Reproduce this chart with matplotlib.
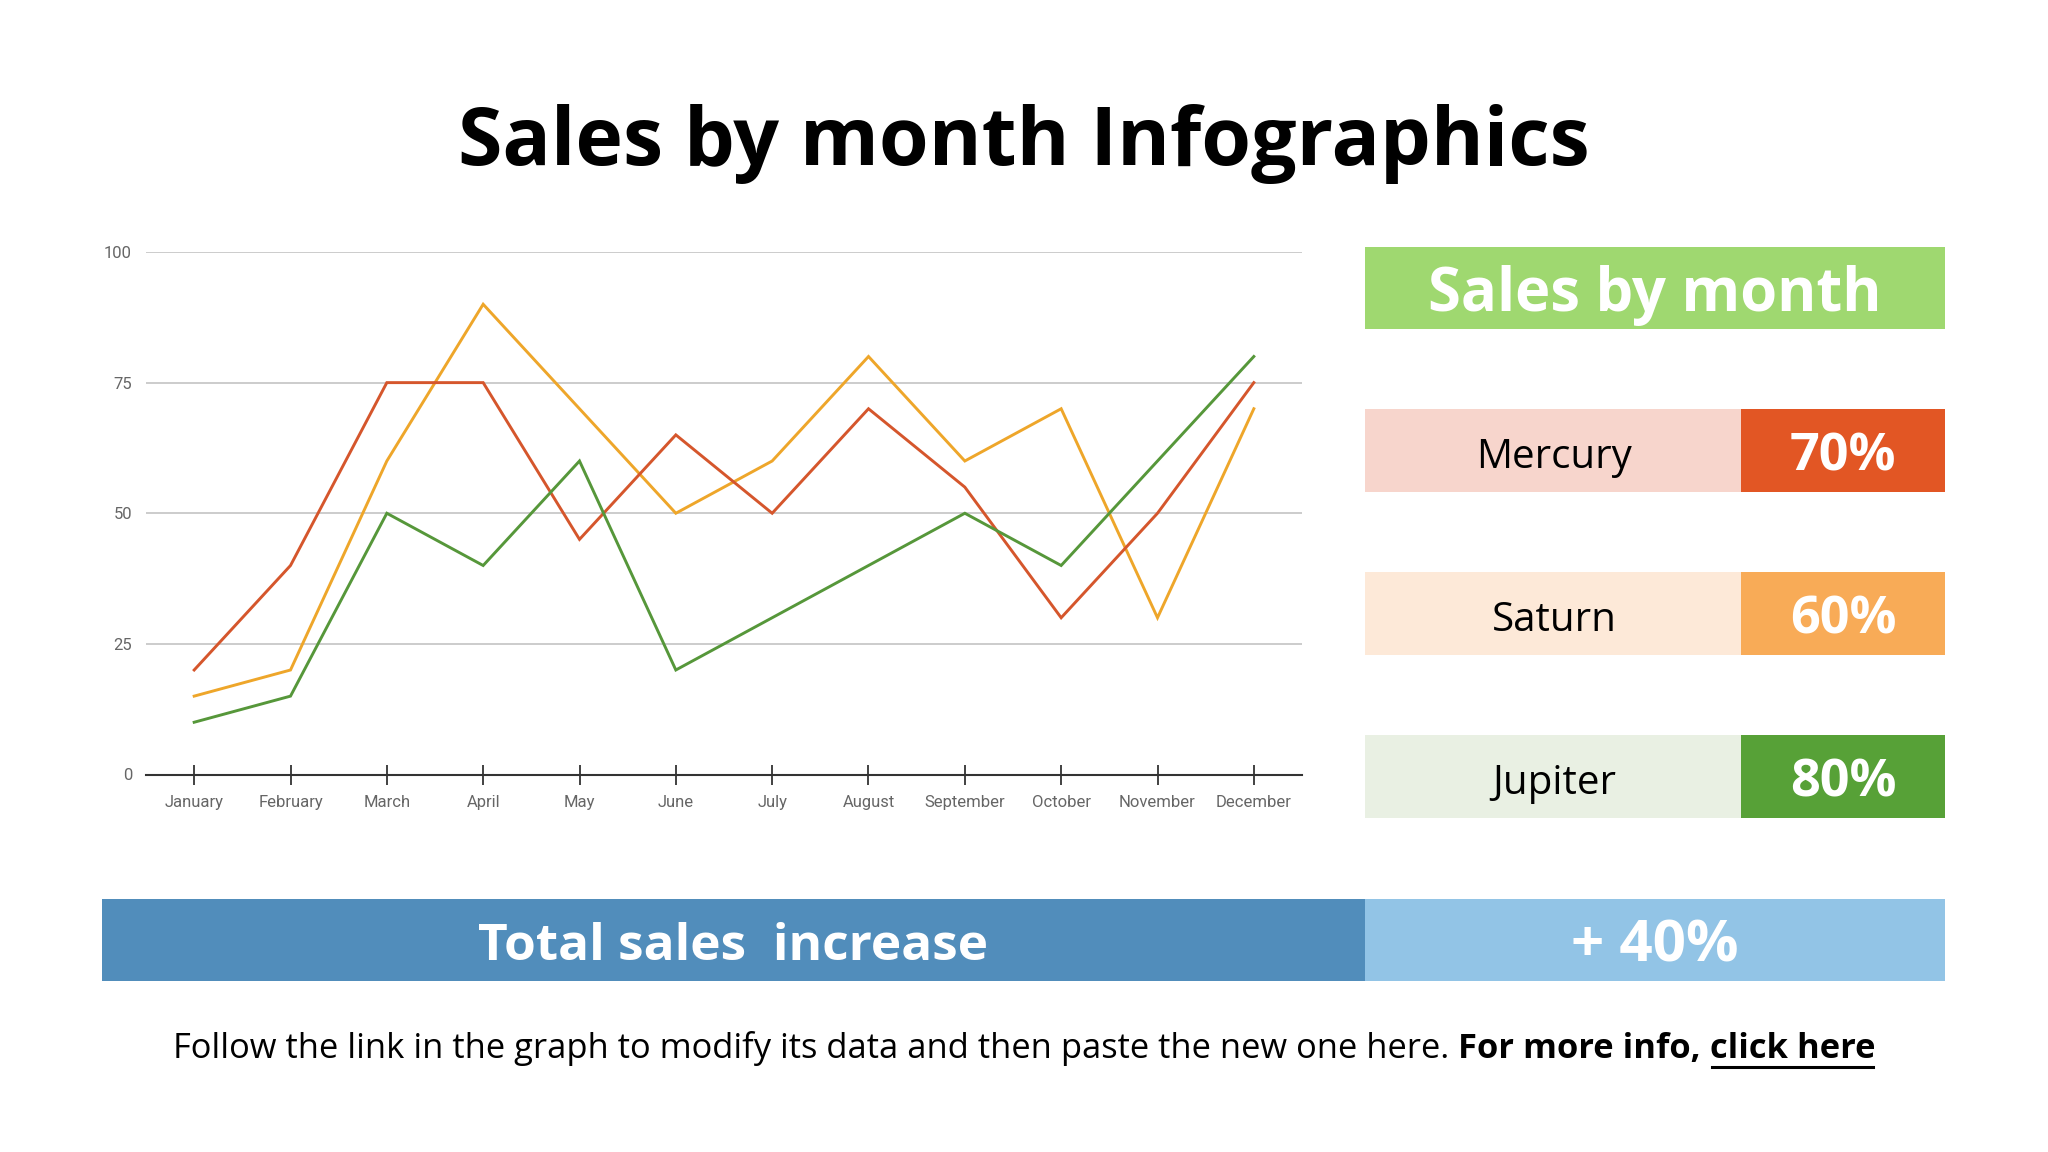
import matplotlib
matplotlib.use("Agg")
import matplotlib.pyplot as plt
from matplotlib.patches import Rectangle

months = ["January", "February", "March", "April", "May", "June", "July",
          "August", "September", "October", "November", "December"]
mercury = [20, 40, 75, 75, 45, 65, 50, 70, 55, 30, 50, 75]
saturn = [15, 20, 60, 90, 70, 50, 60, 80, 60, 70, 30, 70]
jupiter = [10, 15, 50, 40, 60, 20, 30, 40, 50, 40, 60, 80]
y_ticks = [0, 25, 50, 75, 100]

planets = ["Mercury", "Saturn", "Jupiter"]
planet_pct = [70, 60, 80]
total_increase = 40

line_colors = ["#d5562c", "#eea62a", "#56973a"]
light_colors = ["#f7d5cc", "#fde9d8", "#e9f0e3"]
dark_colors = ["#e25624", "#f8ab57", "#57a137"]

W, H = 2048, 1152
fig = plt.figure(figsize=(W / 100, H / 100), dpi=100)
fig.patch.set_facecolor("white")

# background layer in pixel coordinates
bg = fig.add_axes([0, 0, 1, 1])
bg.set_xlim(0, W)
bg.set_ylim(H, 0)
bg.axis("off")

bg.text(1024, 144, "Sales by month Infographics", family="Open Sans",
        weight="bold", fontsize=58, ha="center", va="center")

# line chart
ax = fig.add_axes([146 / W, 1 - 774.5 / H, (1302 - 146) / W, (774.5 - 252) / H])
x = range(len(months))
for vals, c in zip([saturn, mercury, jupiter], [line_colors[1], line_colors[0], line_colors[2]]):
    ax.plot(x, vals, color=c, lw=2.1, solid_joinstyle="miter", zorder=3)
ax.set_xlim(-0.5, len(months) - 0.5)
ax.set_ylim(0, 100)
ax.set_yticks(y_ticks)
ax.set_xticks(list(x))
ax.set_xticklabels(months)
for s in ["top", "right", "left"]:
    ax.spines[s].set_visible(False)
ax.spines["bottom"].set_color("#333333")
ax.spines["bottom"].set_linewidth(1.5)
ax.grid(axis="y", color="#c8c8c8", lw=1.3)
ax.set_axisbelow(True)
ax.tick_params(axis="y", length=0, pad=10, labelsize=12, labelcolor="#666666")
ax.tick_params(axis="x", direction="inout", length=14, width=1.3, color="#333333",
               pad=8, labelsize=12, labelcolor="#666666")
for lab in ax.get_xticklabels() + ax.get_yticklabels():
    lab.set_family("Roboto")

# right panel
bg.add_patch(Rectangle((1365, 247), 580, 82, color="#9fd870", lw=0))
bg.text(1655, 296, "Sales by month", family="Open Sans", weight="bold",
        fontsize=43, color="white", ha="center", va="center")

row_tops = [409, 572, 735]
for name, pct, top, lc, dc in zip(planets, planet_pct, row_tops, light_colors, dark_colors):
    bg.add_patch(Rectangle((1365, top), 376, 83, color=lc, lw=0))
    bg.add_patch(Rectangle((1741, top), 204, 83, color=dc, lw=0))
    bg.text(1554, top + 49, name, family="Open Sans", fontsize=29,
            color="black", ha="center", va="center")
    bg.text(1843, top + 48, f"{pct}%", family="Open Sans", weight="bold",
            fontsize=37.5, color="white", ha="center", va="center")

# bottom banner
bg.add_patch(Rectangle((102, 899), 1263, 82, color="#518dbb", lw=0))
bg.add_patch(Rectangle((1365, 899), 580, 82, color="#92c4e6", lw=0))
bg.text(733, 947, "Total sales  increase", family="Open Sans", weight="bold",
        fontsize=37, color="white", ha="center", va="center")
bg.text(1655, 947, f"+ {total_increase}%", family="Open Sans", weight="bold",
        fontsize=42, color="white", ha="center", va="center")

# footer line built from three pieces
pieces = [("Follow the link in the graph to modify its data and then paste the new one here. ", "normal"),
          ("For more info, ", "bold"),
          ("click here", "bold")]
renderer = fig.canvas.get_renderer()
texts = []
for s, w in pieces:
    t = bg.text(0, 1058, s, family="Open Sans", weight=w, fontsize=24.8,
                color="black", ha="left", va="baseline")
    texts.append(t)
widths = [t.get_window_extent(renderer).width for t in texts]
pos = 1024 - sum(widths) / 2
for t, wd in zip(texts, widths):
    t.set_x(pos)
    pos += wd
ul_x0 = pos - widths[-1]
bg.plot([ul_x0 + 2, pos - 2], [1067, 1067], color="black", lw=2.2)

fig.savefig("out.png", dpi=100, facecolor="white")
